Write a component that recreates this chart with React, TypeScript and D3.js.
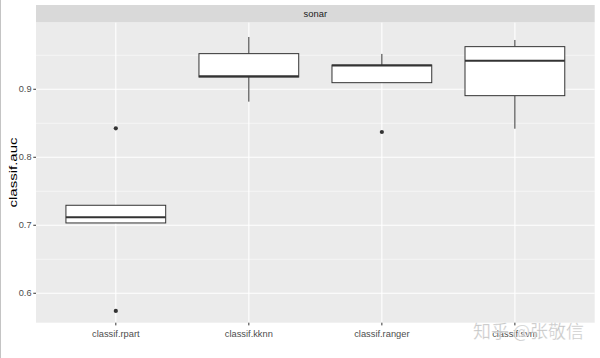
import React from "react";
import * as d3 from "d3";

const learners = ["classif.rpart", "classif.kknn", "classif.ranger", "classif.svm"];
const lowerWhisker = [0.7034, 0.8818, 0.9097, 0.842];
const q1 = [0.7034, 0.918, 0.9097, 0.8906];
const median = [0.7118, 0.9191, 0.935, 0.942];
const q3 = [0.7294, 0.9524, 0.9357, 0.9627];
const upperWhisker = [0.7294, 0.9769, 0.952, 0.9725];
const outliers = [[0.8426, 0.574], [], [0.8372], []];
const majorTicks = [0.6, 0.7, 0.8, 0.9];
const minorTicks = [0.65, 0.75, 0.85, 0.95];
const yLimits = [0.5567, 0.9985];
const facetLabel = "sonar";
const yTitle = "classif.auc";
const watermark = "知乎 @张敬信";

const W = 600;
const H = 358;
const panel = { left: 36, right: 594.7, top: 22.3, bottom: 322.7 };
const strip = { top: 5, bottom: 22.3 };
const font = "Liberation Sans, Arial, sans-serif";

export default function App() {
  const x = d3
    .scalePoint<string>()
    .domain(learners)
    .range([panel.left, panel.right])
    .padding(0.6);
  const y = d3.scaleLinear().domain(yLimits).range([panel.bottom, panel.top]);
  const boxW = x.step() * 0.75;
  const pw = panel.right - panel.left;

  return (
    <svg
      width={W}
      height={H}
      style={{ position: "absolute", left: 0, top: 0, background: "#fff" }}
    >
      <rect x={0} y={0} width={W} height={H} fill="#fff" />
      <line x1={0.5} x2={0.5} y1={0} y2={H} stroke="#c4c4c4" strokeWidth={1} />
      {/* panel */}
      <rect x={panel.left} y={panel.top} width={pw} height={panel.bottom - panel.top} fill="#EBEBEB" />
      {minorTicks.map((t) => (
        <line key={"mi" + t} x1={panel.left} x2={panel.right} y1={y(t)} y2={y(t)} stroke="#fff" strokeWidth={0.55} />
      ))}
      {majorTicks.map((t) => (
        <line key={"ma" + t} x1={panel.left} x2={panel.right} y1={y(t)} y2={y(t)} stroke="#fff" strokeWidth={1.1} />
      ))}
      {learners.map((l) => (
        <line key={"gx" + l} x1={x(l)} x2={x(l)} y1={panel.top} y2={panel.bottom} stroke="#fff" strokeWidth={1.1} />
      ))}
      {/* strip */}
      <rect x={panel.left} y={strip.top} width={pw} height={strip.bottom - strip.top} fill="#D9D9D9" />
      <text
        x={(panel.left + panel.right) / 2}
        y={(strip.top + strip.bottom) / 2 + 3.3}
        textAnchor="middle"
        fontFamily={font}
        fontSize={9.4}
        fill="#1A1A1A"
      >
        {facetLabel}
      </text>
      {/* boxes */}
      {learners.map((l, i) => {
        const cx = x(l) as number;
        return (
          <g key={"b" + l}>
            <line x1={cx} x2={cx} y1={y(upperWhisker[i])} y2={y(q3[i])} stroke="#333" strokeWidth={1} />
            <line x1={cx} x2={cx} y1={y(q1[i])} y2={y(lowerWhisker[i])} stroke="#333" strokeWidth={1} />
            <rect
              x={cx - boxW / 2}
              y={y(q3[i])}
              width={boxW}
              height={y(q1[i]) - y(q3[i])}
              fill="#fff"
              stroke="#333"
              strokeWidth={1}
            />
            <line x1={cx - boxW / 2} x2={cx + boxW / 2} y1={y(median[i])} y2={y(median[i])} stroke="#333" strokeWidth={2} />
            {outliers[i].map((o, j) => (
              <circle key={j} cx={cx} cy={y(o)} r={2.1} fill="#333" />
            ))}
          </g>
        );
      })}
      {/* y axis */}
      {majorTicks.map((t) => (
        <g key={"yt" + t}>
          <line x1={panel.left - 2.7} x2={panel.left} y1={y(t)} y2={y(t)} stroke="#333" strokeWidth={1} />
          <text
            x={panel.left - 4.5}
            y={y(t) + 3.2}
            textAnchor="end"
            fontFamily={font}
            fontSize={9.2}
            fill="#4D4D4D"
          >
            {d3.format(".1f")(t)}
          </text>
        </g>
      ))}
      {/* x axis */}
      {learners.map((l) => (
        <g key={"xt" + l}>
          <line x1={x(l)} x2={x(l)} y1={panel.bottom} y2={panel.bottom + 2.7} stroke="#333" strokeWidth={1} />
          <text x={x(l)} y={337} textAnchor="middle" fontFamily={font} fontSize={9.3} fill="#4D4D4D">
            {l}
          </text>
        </g>
      ))}
      <text
        transform={`translate(16.5, ${(panel.top + panel.bottom) / 2}) rotate(-90)`}
        textAnchor="middle"
        fontFamily={font}
        fontSize={11}
        textLength={70}
        lengthAdjust="spacingAndGlyphs"
        fill="#000"
      >
        {yTitle}
      </text>
      <text
        x={584}
        y={338}
        textAnchor="end"
        fontFamily="Noto Sans CJK SC, sans-serif"
        fontSize={18}
        fill="#b8b8b8"
        fillOpacity={0.85}
        stroke="#fff"
        strokeWidth={0.6}
        strokeOpacity={0.6}
      >
        {watermark}
      </text>
    </svg>
  );
}
